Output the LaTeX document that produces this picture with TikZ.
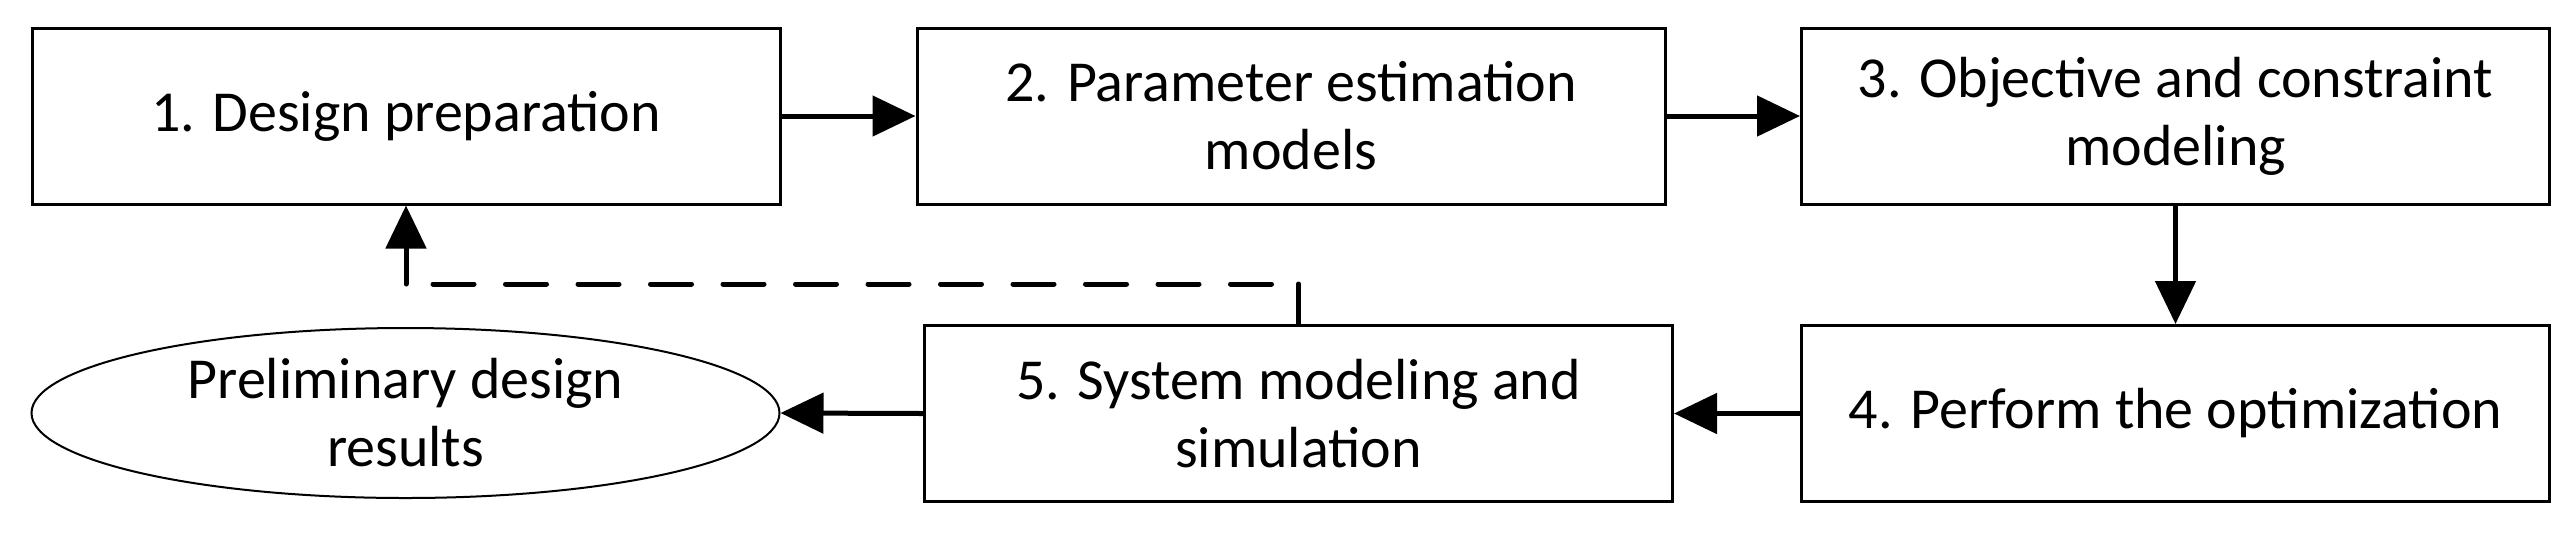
\documentclass[tikz,border=0pt]{standalone}
\usepackage{fontspec}
\setmainfont{Carlito}
\usetikzlibrary{arrows.meta,shapes.geometric}
\begin{document}
\begin{tikzpicture}[x=0.5pt,y=-0.5pt,
  box/.style={draw, line width=1.5pt, minimum width=374pt, minimum height=88pt, inner sep=0pt, align=center, font=\fontsize{29}{34}\selectfont},
  resultell/.style={ellipse, draw, line width=1pt, minimum width=374pt, minimum height=85pt, inner sep=0pt, align=center, font=\fontsize{29}{34}\selectfont},
  flow/.style={line width=2.5pt, line cap=round, -{Triangle[length=21.5pt,width=20pt]}},
  plain/.style={line width=2.5pt, line cap=round},
  dashline/.style={line width=2.5pt, line cap=round, dash pattern=on 20.5pt off 15.75pt}]
\useasboundingbox (0,0) rectangle (2572,554);
\node[box] (n1) at (406,116) {1. Design preparation};
\node[box] (n2) at (1291,116) {2. Parameter estimation\\models};
\node[box] (n3) at (2175.5,116) {3. Objective and constraint\\modeling};
\node[box] (n4) at (2175.5,413.5) {4. Perform the optimization};
\node[box] (n5) at (1298.5,413.5) {5. System modeling and\\simulation};
\node[resultell] (res) at (405.5,413) {Preliminary design\\results};
\draw[flow] (n1.east) -- (n2.west);
\draw[flow] (n2.east) -- (n3.west);
\draw[flow] (n3.south) -- (n4.north);
\draw[flow] (n4.west) -- (n5.east);
\draw[flow] (n5.west) -- (res.east);
\coordinate (fbR) at (1298.5,284);
\coordinate (fbL) at (406,284);
\draw[plain] (n5.north) -- (fbR);
\draw[dashline] ([xshift=13.5pt]fbL) -- ([xshift=-13.25pt]fbR);
\draw[flow] (fbL) -- (n1.south);
\end{tikzpicture}
\end{document}
